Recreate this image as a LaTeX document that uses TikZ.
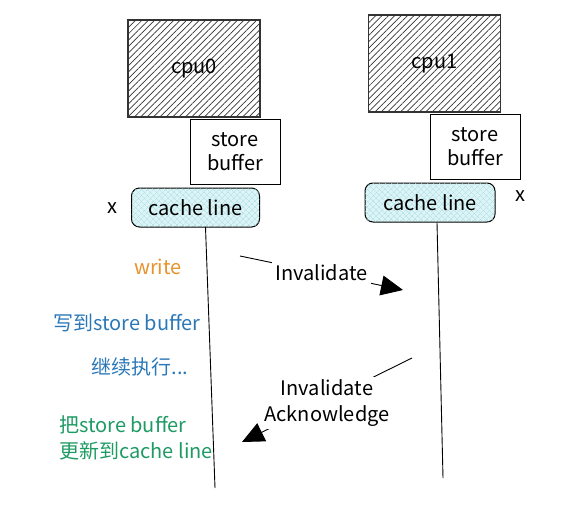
\documentclass[tikz,border=0pt]{standalone}
\usepackage{fontspec}
\setmainfont{Noto Sans CJK SC}
\usetikzlibrary{arrows.meta,patterns.meta}

\definecolor{wrorange}{HTML}{E8922A}
\definecolor{wrblue}{HTML}{2B78B8}
\definecolor{wrgreen}{HTML}{1E9A63}
\definecolor{clfill}{HTML}{DDF4F6}
\definecolor{clhatch}{HTML}{A6DCE3}

\tikzset{
  cpubox/.style={draw=black!80, line width=1.1pt, minimum width=132pt, minimum height=97pt,
    pattern={Lines[angle=45,distance=4.5pt,line width=0.7pt]}, pattern color=black!80},
  sbbox/.style={draw, line width=1pt, minimum width=90pt, minimum height=65pt, align=center,
    inner sep=1pt, font=\fontsize{20}{24}\selectfont},
  clbox/.style={draw, line width=1pt, rounded corners=8pt, minimum width=128pt, minimum height=39pt,
    font=\fontsize{20}{24}\selectfont,
    preaction={fill=clfill},
    pattern={Lines[angle=45,distance=4pt,line width=0.4pt]}, pattern color=clhatch,
    postaction={pattern={Lines[angle=-45,distance=4pt,line width=0.4pt]}, pattern color=clhatch}},
  lbl/.style={font=\fontsize{20}{26}\selectfont, align=center},
  msg/.style={line width=0.9pt, -{Triangle[length=22pt,width=20pt]}},
}

\begin{document}
\begin{tikzpicture}[x=1pt,y=-1pt]
\useasboundingbox (0,0) rectangle (578,525);

% cpu0
\node[cpubox] (cpu0) at (194,68.5) {};
\node[lbl] (cpu0t) at (cpu0) {cpu0};
\node[sbbox] (sb0) at (235,151.5) {store\\buffer};
\node[clbox] (cl0) at (195.5,207.5) {cache line};
\node[lbl] (x0) at (112,208) {x};

% cpu1
\node[cpubox] (cpu1) at (434.5,63.5) {};
\node[lbl] (cpu1t) at (cpu1) {cpu1};
\node[sbbox] (sb1) at (475,146.5) {store\\buffer};
\node[clbox, minimum width=130pt] (cl1) at (430,202.5) {cache line};
\node[lbl] (x1) at (520,196) {x};

% lifelines
\coordinate (end0) at (215,488);
\coordinate (end1) at (443,478);
\draw[line width=0.9pt] ([xshift=10pt]cl0.south) -- (end0);
\draw[line width=0.9pt] ([xshift=7pt]cl1.south) -- (end1);

% messages
\coordinate (inv0) at (240,256);
\coordinate (inv1) at (403,290);
\draw[msg] (inv0) -- node[lbl, fill=white, inner sep=3pt] (invt) {Invalidate} (inv1);

\coordinate (ack0) at (412,358);
\coordinate (ack1) at (242,442);
\draw[msg] (ack0) -- node[lbl, fill=white, inner sep=3pt, yshift=-3pt] (ackt) {Invalidate\\Acknowledge} (ack1);

% cpu0 side notes
\node[lbl, text=wrorange] (wr) at (158,267) {write};
\node[lbl, text=wrblue] (tosb) at (127,323) {写到store buffer};
\node[lbl, text=wrblue] (goon) at (140,367) {继续执行...};
\node[lbl, text=wrgreen, align=left] (flush) at (136,438) {把store buffer\\更新到cache line};

\end{tikzpicture}
\end{document}
